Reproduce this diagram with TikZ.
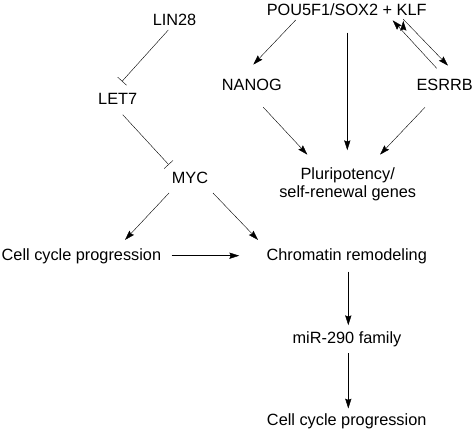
\documentclass[tikz,border=0pt]{standalone}
\usepackage{fontspec}
\setmainfont{Liberation Sans}
\usetikzlibrary{arrows.meta}

\begin{document}
\begin{tikzpicture}[x=1pt,y=-1pt]
    \tikzset{
      ->,
      >={Stealth[length=12pt,width=7.5pt,inset=1.5pt]},
      line width=1.3pt,
      gene/.style={font=\fontsize{16.3}{17.7}\selectfont, anchor=base, inner sep=0pt},
      inhibit/.style={-{Bar[width=12pt]}},
    }
    \useasboundingbox (0,0) rectangle (474,430);

    \node[gene] (lin28) at (174.5,25.3) {LIN28};
    \node[gene] (let7) at (117.7,105) {LET7};
    \node[gene] (myc) at (190,184) {MYC};
    \node[gene] (pou) at (346.7,16) {POU5F1/SOX2 + KLF};
    \node[gene] (nanog) at (251.8,91) {NANOG};
    \node[gene] (esrrb) at (444.7,91) {ESRRB};
    % base of a two-line node is its last line
    \node[gene, align=center] (pluri) at (347.7,197.7) {Pluripotency/\\self-renewal genes};
    \node[gene] (cellcycle) at (81.4,260.5) {Cell cycle progression};
    \node[gene] (chromatin) at (346.7,260.5) {Chromatin remodeling};
    \node[gene] (mir290) at (347,344) {miR-290 family};
    \node[gene] (cellcycle2) at (346.7,425.5) {Cell cycle progression};

    \draw
      ([shift={(-6.2,4.7)}]lin28.base) edge[inhibit] ([shift={(4,-23.3)}]let7.base)
      ([shift={(5,9.7)}]let7.base) edge[inhibit] ([shift={(-21,-19)}]myc.base)
      ([shift={(-21,9)}]myc.base) edge ([shift={(42.6,-19.5)}]cellcycle.base)
      ([shift={(23,9)}]myc.base) edge ([shift={(-87.7,-19.5)}]chromatin.base)
      ([shift={(90.3,-4.8)}]cellcycle.base) edge ([shift={(-106,-4.8)}]chromatin.base)
      ([shift={(1.6,11.2)}]chromatin.base) edge ([shift={(1.3,-17.3)}]mir290.base)
      ([shift={(1.3,9.3)}]mir290.base) edge ([shift={(1.6,-15.5)}]cellcycle2.base)
      ([shift={(-51,4)}]pou.base) edge ([shift={(0.5,-25.3)}]nanog.base)
      ([shift={(0.6,16.7)}]pou.base) edge ([shift={(-0.4,-46)}]pluri.base)
      ([shift={(11.5,16.3)}]nanog.base) edge ([shift={(-39.4,-42)}]pluri.base)
      ([shift={(-19.7,16.3)}]esrrb.base) edge ([shift={(31.3,-42)}]pluri.base)
      ([shift={(-8,-22.7)}]esrrb.base) edge ([shift={(45,3.3)}]pou.base)
      ([shift={(56.6,3.3)}]pou.base) edge ([shift={(4.3,-24.3)}]esrrb.base);
\end{tikzpicture}
\end{document}
